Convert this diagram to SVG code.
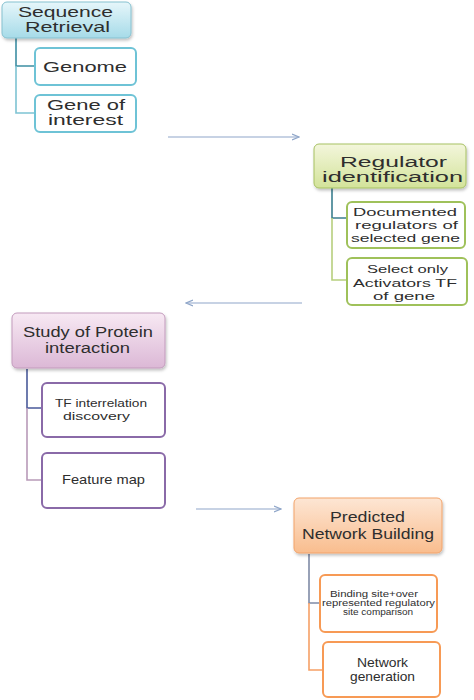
<svg xmlns="http://www.w3.org/2000/svg" width="474" height="700" viewBox="0 0 474 700">
<style>
text{font-family:"Liberation Sans",Arial,sans-serif;fill:#2e2e2e}
.h{font-size:14px}
.c{font-size:13px}
.t{font-size:11.5px}
.s{font-size:11px}
.xs{font-size:8.5px}
.child{fill:#fff;stroke-width:2}
.arrow{stroke:#8fa6c9;stroke-width:1.2;fill:none;marker-end:url(#ah)}
.tree{fill:none;stroke-width:1.6}
</style>
<defs>
<linearGradient id="gB" x1="0" y1="0" x2="0" y2="1"><stop offset="0" stop-color="#e6f6fa"/><stop offset="1" stop-color="#a6dbe8"/></linearGradient>
<linearGradient id="gG" x1="0" y1="0" x2="0" y2="1"><stop offset="0" stop-color="#f3f6dc"/><stop offset="1" stop-color="#d3e39a"/></linearGradient>
<linearGradient id="gP" x1="0" y1="0" x2="0" y2="1"><stop offset="0" stop-color="#f7e9f3"/><stop offset="1" stop-color="#dcb8d6"/></linearGradient>
<linearGradient id="gO" x1="0" y1="0" x2="0" y2="1"><stop offset="0" stop-color="#fde6d4"/><stop offset="1" stop-color="#f9bd8e"/></linearGradient>
<filter id="sh" x="-10%" y="-10%" width="130%" height="140%"><feDropShadow dx="1" dy="2" stdDeviation="1.5" flood-color="#000" flood-opacity="0.25"/></filter>
<marker id="ah" markerWidth="8" markerHeight="8" refX="7" refY="4" orient="auto" markerUnits="userSpaceOnUse"><path d="M0,1 L7,4 L0,7" fill="none" stroke="#8fa6c9" stroke-width="1.2"/></marker>
</defs>

<g id="connectors">
<path class="arrow" d="M168,137 L299,137"/>
<path class="arrow" d="M302,303 L186,303"/>
<path class="arrow" d="M196,509 L281,509"/>
<path class="tree" stroke="#3d8ea3" d="M16,38 V66 H35"/>
<path class="tree" stroke="#7ec3d3" d="M16,66 V113 H35"/>
<path class="tree" stroke="#3b7f8f" d="M332,188 V218 H347"/>
<path class="tree" stroke="#b7cf7e" d="M332,218 V280 H347"/>
<path class="tree" stroke="#4a5a9a" d="M27,369 V408 H42"/>
<path class="tree" stroke="#b89ab8" d="M27,408 V480 H42"/>
<path class="tree" stroke="#7f8aa6" d="M309,554 V603 H320"/>
<path class="tree" stroke="#f6a066" d="M309,603 V670 H323"/>
</g>

<g id="seq-retrieval">
<rect x="2" y="2" width="129" height="36" rx="5" fill="url(#gB)" stroke="#86c1d0" stroke-width="1" filter="url(#sh)"/>
<text class="h" x="18" y="17" textLength="95" lengthAdjust="spacingAndGlyphs">Sequence</text>
<text class="h" x="25" y="32" textLength="85" lengthAdjust="spacingAndGlyphs">Retrieval</text>
</g>
<g id="genome">
<rect class="child" x="35" y="48" width="101" height="37" rx="5" stroke="#6ec3d6"/>
<text class="h" x="43" y="72" textLength="84" lengthAdjust="spacingAndGlyphs">Genome</text>
</g>
<g id="gene-of-interest">
<rect class="child" x="35" y="95" width="101" height="37" rx="5" stroke="#6ec3d6"/>
<text class="h" x="47" y="110" textLength="78" lengthAdjust="spacingAndGlyphs">Gene of</text>
<text class="h" x="48" y="125" textLength="75" lengthAdjust="spacingAndGlyphs">interest</text>
</g>

<g id="regulator-identification">
<rect x="314" y="144" width="152" height="44" rx="5" fill="url(#gG)" stroke="#a7c163" stroke-width="1" filter="url(#sh)"/>
<text class="h" x="340" y="167" textLength="107" lengthAdjust="spacingAndGlyphs">Regulator</text>
<text class="h" x="322" y="182" textLength="141" lengthAdjust="spacingAndGlyphs">identification</text>
</g>
<g id="documented-regulators">
<rect class="child" x="347" y="202" width="118" height="46" rx="5" stroke="#9fc15a"/>
<text class="t" x="353" y="216" textLength="104" lengthAdjust="spacingAndGlyphs">Documented</text>
<text class="t" x="355" y="229" textLength="103" lengthAdjust="spacingAndGlyphs">regulators of</text>
<text class="t" x="351" y="242" textLength="109" lengthAdjust="spacingAndGlyphs">selected gene</text>
</g>
<g id="select-activators">
<rect class="child" x="347" y="258" width="120" height="47" rx="5" stroke="#9fc15a"/>
<text class="t" x="367" y="273" textLength="81" lengthAdjust="spacingAndGlyphs">Select only</text>
<text class="t" x="353" y="287" textLength="104" lengthAdjust="spacingAndGlyphs">Activators TF</text>
<text class="t" x="373" y="300" textLength="62" lengthAdjust="spacingAndGlyphs">of gene</text>
</g>

<g id="protein-interaction">
<rect x="12" y="313" width="153" height="55" rx="5" fill="url(#gP)" stroke="#c39bbd" stroke-width="1" filter="url(#sh)"/>
<text class="h" x="23" y="337" textLength="130" lengthAdjust="spacingAndGlyphs">Study of Protein</text>
<text class="h" x="45" y="353" textLength="85" lengthAdjust="spacingAndGlyphs">interaction</text>
</g>
<g id="tf-interrelation">
<rect class="child" x="42" y="383" width="123" height="54" rx="5" stroke="#8a6aa8"/>
<text class="s" x="55" y="407" textLength="92" lengthAdjust="spacingAndGlyphs">TF interrelation</text>
<text class="s" x="63" y="420" textLength="67" lengthAdjust="spacingAndGlyphs">discovery</text>
</g>
<g id="feature-map">
<rect class="child" x="42" y="453" width="123" height="55" rx="5" stroke="#8a6aa8"/>
<text class="c" x="62" y="484" textLength="83" lengthAdjust="spacingAndGlyphs">Feature map</text>
</g>

<g id="predicted-network">
<rect x="294" y="498" width="148" height="55" rx="5" fill="url(#gO)" stroke="#f2a36a" stroke-width="1" filter="url(#sh)"/>
<text class="h" x="330" y="522" textLength="75" lengthAdjust="spacingAndGlyphs">Predicted</text>
<text class="h" x="302" y="539" textLength="132" lengthAdjust="spacingAndGlyphs">Network Building</text>
</g>
<g id="binding-site">
<rect class="child" x="320" y="575" width="117" height="57" rx="5" stroke="#f79a55"/>
<text class="xs" x="330" y="597" textLength="88" lengthAdjust="spacingAndGlyphs">Binding site+over</text>
<text class="xs" x="322" y="606" textLength="113" lengthAdjust="spacingAndGlyphs">represented regulatory</text>
<text class="xs" x="343" y="615" textLength="70" lengthAdjust="spacingAndGlyphs">site comparison</text>
</g>
<g id="network-generation">
<rect class="child" x="323" y="642" width="117" height="55" rx="5" stroke="#f79a55"/>
<text class="c" x="357" y="667" textLength="51" lengthAdjust="spacingAndGlyphs">Network</text>
<text class="c" x="350" y="681" textLength="65" lengthAdjust="spacingAndGlyphs">generation</text>
</g>
</svg>
